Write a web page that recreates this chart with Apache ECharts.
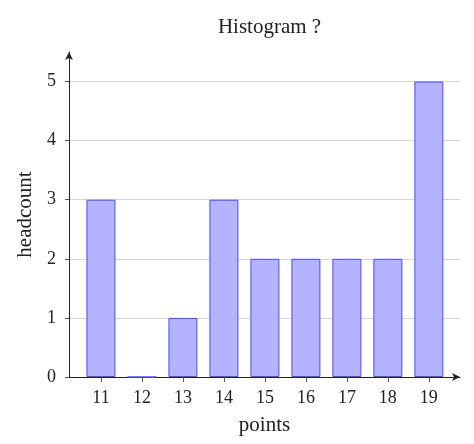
<!DOCTYPE html>
<html><head><meta charset="utf-8">
<script src="https://cdn.jsdelivr.net/npm/echarts@6/dist/echarts.min.js"></script>
<style>html,body{margin:0;padding:0;background:#fff}#c{width:474px;height:444px}</style>
</head><body><div id="c"></div>
<script>
const categories = [11, 12, 13, 14, 15, 16, 17, 18, 19];
const headcount = [3, 0, 1, 3, 2, 2, 2, 2, 5];
const yTicks = [0, 1, 2, 3, 4, 5];
const font = '"Liberation Serif", "DejaVu Serif", serif';

const chart = echarts.init(document.getElementById('c'), null, {renderer: 'canvas'});
chart.setOption({
  animation: false,
  title: {
    text: 'Histogram ?', left: 264.5, top: 12, textAlign: 'center',
    textStyle: {fontFamily: font, fontSize: 21, fontWeight: 'normal', color: '#222'}
  },
  grid: {left: 69, right: 14, top: 52, bottom: 67, containLabel: false},
  xAxis: {
    type: 'value', min: 10.22, max: 19.76,
    name: 'points', nameLocation: 'middle', nameGap: 38,
    nameTextStyle: {fontFamily: font, fontSize: 21, color: '#222'},
    axisLine: {show: true, symbol: ['none', 'arrow'], symbolSize: [6, 8], lineStyle: {color: '#222', width: 1}},
    axisTick: {show: true, length: 5, inside: false, customValues: categories, lineStyle: {color: '#555'}},
    axisLabel: {customValues: categories, margin: 12, fontFamily: font, fontSize: 18, color: '#222'},
    splitLine: {show: false}
  },
  yAxis: {
    type: 'value', min: 0, max: 5.5,
    name: 'headcount', nameLocation: 'middle', nameGap: 33, nameRotate: 90,
    nameTextStyle: {fontFamily: font, fontSize: 21, color: '#222'},
    axisLine: {show: true, symbol: ['none', 'arrow'], symbolSize: [6, 8], lineStyle: {color: '#222', width: 1}},
    axisTick: {show: true, length: 4, customValues: yTicks, lineStyle: {color: '#555'}},
    axisLabel: {customValues: yTicks, margin: 13, fontFamily: font, fontSize: 18, color: '#222'},
    splitLine: {show: true, lineStyle: {color: '#d4d4d4', width: 1}}
  },
  series: [{
    type: 'bar',
    data: categories.map((c, i) => [c, headcount[i]]),
    barWidth: 29,
    itemStyle: {color: '#b3b3ff', borderColor: '#4c4cf0', borderWidth: 1}
  }]
});
</script></body></html>
